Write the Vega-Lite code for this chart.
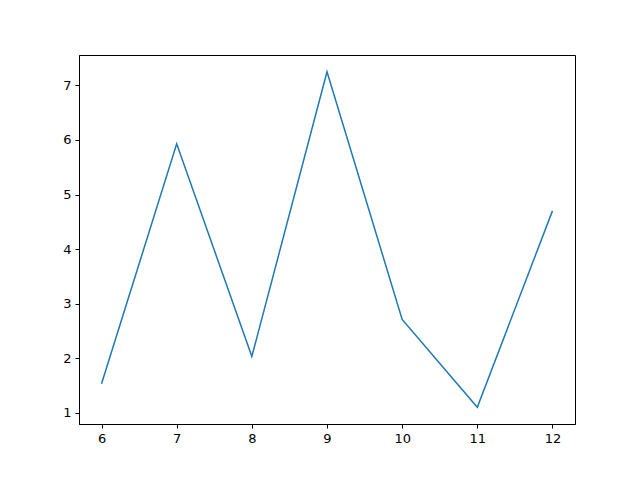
{
  "$schema": "https://vega.github.io/schema/vega-lite/v6.json",
  "width": 496,
  "height": 369,
  "autosize": {"type": "none"},
  "padding": {"left": 79, "top": 55, "right": 64, "bottom": 53},
  "background": "white",
  "config": {
    "view": {"stroke": "black", "strokeWidth": 1},
    "axis": {
      "grid": false,
      "domainColor": "black",
      "tickColor": "black",
      "tickSize": 4,
      "labelFont": "DejaVu Sans",
      "labelFontSize": 13,
      "labelColor": "black",
      "labelPadding": 4
    }
  },
  "data": {
    "values": [
      {"x": 6, "y": 1.53},
      {"x": 7, "y": 5.93},
      {"x": 8, "y": 2.03},
      {"x": 9, "y": 7.25},
      {"x": 10, "y": 2.71},
      {"x": 11, "y": 1.1},
      {"x": 12, "y": 4.7}
    ]
  },
  "mark": {"type": "line", "color": "#1f77b4", "strokeWidth": 1.5},
  "encoding": {
    "x": {
      "field": "x",
      "type": "quantitative",
      "scale": {"domain": [5.7, 12.3], "nice": false, "zero": false},
      "axis": {"values": [6, 7, 8, 9, 10, 11, 12], "title": null, "format": "d"}
    },
    "y": {
      "field": "y",
      "type": "quantitative",
      "scale": {"domain": [0.7925, 7.5575], "nice": false, "zero": false},
      "axis": {"values": [1, 2, 3, 4, 5, 6, 7], "title": null, "format": "d"}
    }
  }
}
